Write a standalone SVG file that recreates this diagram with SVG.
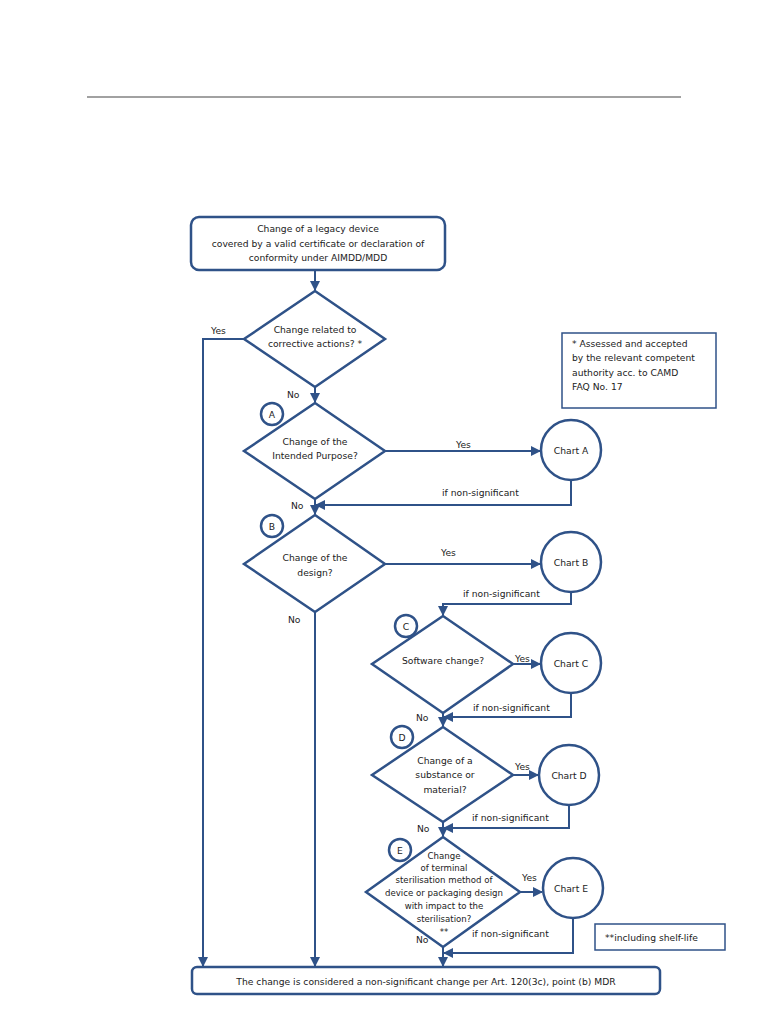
<svg xmlns="http://www.w3.org/2000/svg" width="768" height="1024" viewBox="0 0 768 1024">
<defs>
<marker id="ar" viewBox="0 0 10 10" refX="9" refY="5" markerWidth="5" markerHeight="5" orient="auto"><path d="M0,0L10,5L0,10z" fill="#2F5288"/></marker>
<style>
.s{fill:#fff;stroke:#2F5288;stroke-width:2.5}
.l{fill:none;stroke:#2F5288;stroke-width:2}
.a{marker-end:url(#ar)}
.nb{fill:#fff;stroke:#2F5288;stroke-width:1.5}
text{font-family:"DejaVu Sans",Verdana,sans-serif;font-size:9.2px;fill:#222}
.c{text-anchor:middle}
</style>
</defs>
<rect width="768" height="1024" fill="#fff"/>
<line x1="87" y1="97" x2="681" y2="97" stroke="#444" stroke-width="1.2"/>
<g id="connectors">
<path class="l a" d="M315,270V290"/>
<path class="l a" d="M244,339H203V966"/>
<path class="l a" d="M315,387V402"/>
<path class="l a" d="M385,451H540"/>
<path class="l a" d="M571,480V505H316"/>
<path class="l a" d="M315,499V514"/>
<path class="l a" d="M385,564H540"/>
<path class="l a" d="M315,612V966"/>
<path class="l a" d="M571,592V604H443V615"/>
<path class="l a" d="M513,664H540"/>
<path class="l a" d="M571,693V717H444"/>
<path class="l a" d="M443,713V726"/>
<path class="l a" d="M513,775H538"/>
<path class="l a" d="M569,805V828H444"/>
<path class="l a" d="M443,822V836"/>
<path class="l a" d="M520,892H542"/>
<path class="l a" d="M573,918V953H444"/>
<path class="l a" d="M443,947V966"/>
</g>
<g id="start"><rect class="s" x="191" y="217" width="254" height="53" rx="8"/>
<text class="c" x="318" y="232">Change of a legacy device</text>
<text class="c" x="318" y="247">covered by a valid certificate or declaration of</text>
<text class="c" x="318" y="261">conformity under AIMDD/MDD</text></g>
<g id="q1"><polygon class="s" points="315,291 385,339 315,387 244,339"/>
<text class="c" x="315" y="333">Change related to</text><text class="c" x="315" y="347">corrective actions? *</text></g>
<g id="qA"><polygon class="s" points="315,403 385,451 315,499 244,451"/>
<circle class="s" cx="272" cy="414" r="11"/><text class="c" x="272" y="418">A</text>
<text class="c" x="315" y="445">Change of the</text><text class="c" x="315" y="459">Intended Purpose?</text></g>
<g id="qB"><polygon class="s" points="315,515 385,564 315,612 244,564"/>
<circle class="s" cx="272" cy="526" r="11"/><text class="c" x="272" y="530">B</text>
<text class="c" x="315" y="561">Change of the</text><text class="c" x="315" y="576">design?</text></g>
<g id="qC"><polygon class="s" points="443,616 513,664 443,713 372,664"/>
<circle class="s" cx="406" cy="626" r="11"/><text class="c" x="406" y="630">C</text>
<text class="c" x="443" y="664">Software change?</text></g>
<g id="qD"><polygon class="s" points="443,727 513,775 443,822 372,775"/>
<circle class="s" cx="402" cy="737" r="11"/><text class="c" x="402" y="741">D</text>
<text class="c" x="445" y="764">Change of a</text><text class="c" x="445" y="778">substance or</text><text class="c" x="445" y="793">material?</text></g>
<g id="qE"><polygon class="s" points="443,837 520,892 443,947 366,892"/>
<circle class="s" cx="400" cy="850" r="11"/><text class="c" x="400" y="854">E</text>
<g style="font-size:8.6px"><text class="c" x="444" y="859" style="font-size:8.6px">Change</text>
<text class="c" x="444" y="871" style="font-size:8.6px">of terminal</text>
<text class="c" x="444" y="883" style="font-size:8.6px">sterilisation method of</text>
<text class="c" x="444" y="896" style="font-size:8.6px">device or packaging design</text>
<text class="c" x="444" y="909" style="font-size:8.6px">with impact to the</text>
<text class="c" x="444" y="922" style="font-size:8.6px">sterilisation?</text>
<text class="c" x="444" y="935" style="font-size:8.6px">**</text></g></g>
<g id="chartA"><circle class="s" cx="571" cy="450" r="30"/><text class="c" x="571" y="454">Chart A</text></g>
<g id="chartB"><circle class="s" cx="571" cy="562" r="30"/><text class="c" x="571" y="566">Chart B</text></g>
<g id="chartC"><circle class="s" cx="571" cy="663" r="30"/><text class="c" x="571" y="667">Chart C</text></g>
<g id="chartD"><circle class="s" cx="569" cy="775" r="30"/><text class="c" x="569" y="779">Chart D</text></g>
<g id="chartE"><circle class="s" cx="573" cy="888" r="30"/><text class="c" x="571" y="892">Chart E</text></g>
<g id="end"><rect class="s" x="192" y="967" width="468" height="27" rx="5"/>
<text class="c" x="426" y="985">The change is considered a non-significant change per Art. 120(3c), point (b) MDR</text></g>
<g id="note1"><rect class="nb" x="562" y="333" width="154" height="75"/>
<text x="572" y="347">* Assessed and accepted</text><text x="572" y="361">by the relevant competent</text>
<text x="572" y="376">authority acc. to CAMD</text><text x="572" y="390">FAQ No. 17</text></g>
<g id="note2"><rect class="nb" x="595" y="924" width="130" height="26"/><text x="605" y="941">**including shelf-life</text></g>
<g id="labels">
<text x="211" y="334">Yes</text><text x="287" y="398">No</text>
<text x="456" y="448">Yes</text><text x="442" y="496">if non-significant</text><text x="291" y="509">No</text>
<text x="441" y="556">Yes</text><text x="463" y="597">if non-significant</text><text x="288" y="623">No</text>
<text x="515" y="662">Yes</text><text x="473" y="711">if non-significant</text><text x="416" y="721">No</text>
<text x="515" y="770">Yes</text><text x="472" y="821">if non-significant</text><text x="417" y="832">No</text>
<text x="522" y="881">Yes</text><text x="472" y="937">if non-significant</text><text x="416" y="943">No</text>
</g>
</svg>
